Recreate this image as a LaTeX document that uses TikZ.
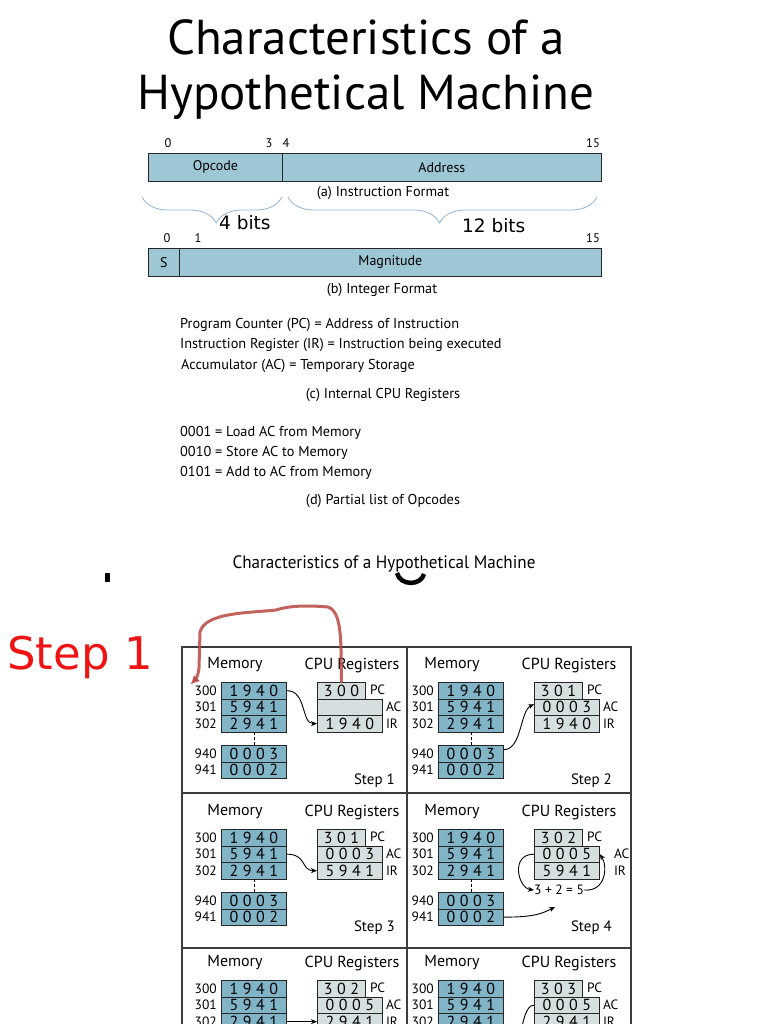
\documentclass[tikz,border=0pt]{standalone}
\usepackage{fontspec}
\setmainfont{PT Sans}
\newfontfamily\dejavu{DejaVu Sans}
\newfontfamily\condfont[FakeStretch=0.95]{PT Sans}
\usetikzlibrary{positioning,decorations.pathreplacing,arrows.meta}

\definecolor{barblue}{RGB}{157,199,212}
\definecolor{memblue}{RGB}{128,180,198}
\definecolor{reggray}{RGB}{214,223,224}
\definecolor{bracecol}{RGB}{140,180,212}
\definecolor{handred}{RGB}{184,72,66}
\definecolor{stepred}{RGB}{238,20,20}
\definecolor{gridcol}{RGB}{60,60,60}

\tikzset{
  field/.style={draw=black!85, fill=barblue, line width=0.8pt, minimum height=28pt,
    inner sep=0pt, anchor=north west, font=\fontsize{14}{14}\selectfont},
  bitnum/.style={font=\fontsize{12.5}{13}\selectfont, inner sep=0pt},
  caption/.style={font=\fontsize{14.3}{15}\selectfont, inner sep=0pt},
  brace/.style={draw=bracecol, line width=0.8pt, decorate,
    decoration={brace, mirror, amplitude=26pt}},
  bitsfont/.style={font=\dejavu\fontsize{18.5}{19}\selectfont, inner sep=0pt},
  memword/.style={draw=black!85, fill=memblue, line width=0.8pt, minimum width=65pt,
    minimum height=16.5pt, inner sep=0pt, anchor=north west,
    font=\fontsize{16}{16}\selectfont, execute at begin node={\spaceskip=4.5pt\relax}},
  regword/.style={memword, fill=reggray},
  addr/.style={font=\fontsize{13.5}{14}\selectfont, inner sep=1pt},
  reglab/.style={font=\fontsize{13.5}{14}\selectfont, inner sep=1pt},
  head/.style={font=\fontsize{16}{17}\selectfont, inner sep=0pt},
  steplab/.style={font=\fontsize{15}{16}\selectfont, inner sep=0pt},
  flow/.style={-{Stealth[length=6pt,width=5pt]}, line width=0.9pt},
  gridline/.style={draw=gridcol, line width=1.3pt},
  handarrow/.style={draw=handred, line width=3pt, opacity=0.85, line cap=round,
    line join=round, -{Latex[length=9pt,width=9pt]}}
}

\begin{document}
\begin{tikzpicture}[x=1pt,y=-1pt]
\useasboundingbox (0,0) rectangle (768,1024);
\clip (0,0) rectangle (768,1024);

% Title
\node[font=\fontsize{49}{50}\selectfont] (title1) at (366,37) {Characteristics of a};
\node[font=\fontsize{49}{50}\selectfont] (title2) at (366,97) {Hypothetical Machine};

% (a) Instruction format
\node[bitnum] (i0) at (168,143) {0};
\node[bitnum] (i3) at (269,143) {3};
\node[bitnum] (i4) at (286,143) {4};
\node[bitnum] (i15) at (593,143) {15};
\node[field, minimum width=134pt] (opcode) at (148,153) {Opcode};
\node[field, minimum width=319pt] (address) at (282,153) {Address};
\node[caption] (capa) at (383,193) {(a) Instruction Format};

% Braces
\draw[brace, decoration={aspect=0.53}] (142,197) -- (282,197);
\draw[brace, decoration={aspect=0.49}] (288,197) -- (597,197);
\node[bitsfont, anchor=west] (bits4) at (219,223) {4 bits};
\node[bitsfont, anchor=west] (bits12) at (462,226) {12 bits};

% (b) Integer format
\node[bitnum] (n0) at (167,238) {0};
\node[bitnum] (n1) at (198,238) {1};
\node[bitnum] (n15) at (593,238) {15};
\node[field, minimum width=31pt] (sign) at (148,248) {S};
\node[field, minimum width=422pt] (magnitude) at (179,248) {Magnitude};
\node[caption] (capb) at (382,290) {(b) Integer Format};

% (c) Registers
\node[caption, anchor=west] (regpc) at (180,325) {Program Counter (PC) = Address of Instruction};
\node[caption, anchor=west] (regir) at (180,345) {Instruction Register (IR) = Instruction being executed};
\node[caption, anchor=west] (regac) at (181,366) {Accumulator (AC) = Temporary Storage};
\node[caption] (capc) at (383,395) {(c) Internal CPU Registers};

% (d) Opcodes
\node[caption, anchor=west] (op1) at (180,433) {0001 = Load AC from Memory};
\node[caption, anchor=west] (op2) at (180,453) {0010 = Store AC to Memory};
\node[caption, anchor=west] (op5) at (180,473) {0101 = Add to AC from Memory};
\node[caption] (capd) at (383,501) {(d) Partial list of Opcodes};

% Second title with leftovers of the text beneath it
\fill (105,573) rectangle (110,582);
\draw[line width=4.5pt] (397,573) .. controls (400,586) and (421,586) .. (424,574);
\node[font=\condfont\fontsize{18}{19}\selectfont] (title3) at (384,564) {Characteristics of a Hypothetical Machine};

% Step 1 note
\node[font=\dejavu\fontsize{45}{46}\selectfont, text=stepred, inner sep=0pt] (bigstep) at (80,657) {Step 1};

% Grid
\draw[gridline] (182,1030) -- (182,647) -- (631,647) -- (631,1030);
\draw[gridline] (407,647) -- (407,1030);
\draw[gridline] (182,793) -- (631,793);
\draw[gridline] (182,948) -- (631,948);

% Cells
\foreach \k/\mx/\my/\pcv/\acv/\irv/\lg in {
    1/221/682/3 0 0/{}/1 9 4 0/2pt,
    2/438/682/3 0 1/0 0 0 3/1 9 4 0/2pt,
    3/221/829/3 0 1/0 0 0 3/5 9 4 1/2pt,
    4/438/829/3 0 2/0 0 0 5/5 9 4 1/13pt,
    5/221/980/3 0 2/0 0 0 5/2 9 4 1/2pt,
    6/438/980/3 0 3/0 0 0 5/2 9 4 1/2pt}{
  \node[head] (c\k-mem) at (\mx+14,\my-17) {Memory};
  \node[head] (c\k-cpu) at (\mx+131,\my-17) {CPU Registers};
  % Memory
  \node[memword] (c\k-300) at (\mx,\my) {1 9 4 0};
  \node[memword] (c\k-301) at (\mx,\my+16.5) {5 9 4 1};
  \node[memword] (c\k-302) at (\mx,\my+33) {2 9 4 1};
  \node[memword] (c\k-940) at (\mx,\my+63) {0 0 0 3};
  \node[memword] (c\k-941) at (\mx,\my+79.5) {0 0 0 2};
  \draw[densely dashed, line width=0.8pt] (c\k-302) -- (c\k-940);
  \foreach \a in {300,301,302,940,941}
    \node[addr, left=3pt of c\k-\a] (c\k-a\a) {\a};
  % Registers
  \node[regword, minimum width=48pt] (c\k-pc) at (\mx+96,\my) {\pcv};
  \node[regword] (c\k-ac) at (\mx+96,\my+16.5) {\acv};
  \node[regword] (c\k-ir) at (\mx+96,\my+33) {\irv};
  \node[reglab, right=3pt of c\k-pc, yshift=1pt] (c\k-lpc) {PC};
  \node[reglab, right=\lg of c\k-ac] (c\k-lac) {AC};
  \node[reglab, right=\lg of c\k-ir] (c\k-lir) {IR};
}
\foreach \k/\mx/\my in {1/221/682, 2/438/682, 3/221/829, 4/438/829}
  \node[steplab, anchor=east] (s\k) at (\mx+174,\my+99) {Step \k};

% Step 1: fetch
\draw[flow] (c1-300.east) .. controls +(20,0) and +(-16,0) .. (c1-ir.west);
% Step 2: load AC
\draw[flow] ([yshift=4pt]c2-940.east) .. controls +(18,0) and +(-14,7) .. ([yshift=3pt]c2-ac.west);
% Step 3: fetch
\draw[flow] (c3-301.east) .. controls +(20,0) and +(-16,0) .. (c3-ir.west);
% Step 4: add
\node[caption, font=\fontsize{13.5}{14}\selectfont, execute at begin node={\spaceskip=3.5pt\relax}] (c4-sum) at (559,890) {3 + 2 = 5};
\coordinate (c4-in) at (555,907);
\draw[flow] (c4-ac.west) .. controls +(-24,0) and +(-16,-2) .. (c4-sum.west);
\draw[flow] (c4-sum.east) .. controls +(22,2) and +(8,12) .. (c4-ac.east);
\draw[flow] (c4-941.east) .. controls +(32,0) and +(-12,6) .. (c4-in);
% Step 5: fetch
\draw[flow] (c5-302.east) -- (c5-ir.west);
% Step 6: store
\draw[flow] (c6-ac.west) .. controls +(-16,0) and +(18,0) .. (c6-941.east);

% Hand drawn note
\draw[handarrow] (c1-pc.north) .. controls (341,640) and (342,612) .. (328,607)
  .. controls (305,605) and (288,606) .. (276,610)
  .. controls (250,613) and (205,612) .. (200,632)
  -- (199,668) .. controls (198,678) and (194,681) .. ([xshift=-3pt]c1-a300.north west);
\end{tikzpicture}
\end{document}
